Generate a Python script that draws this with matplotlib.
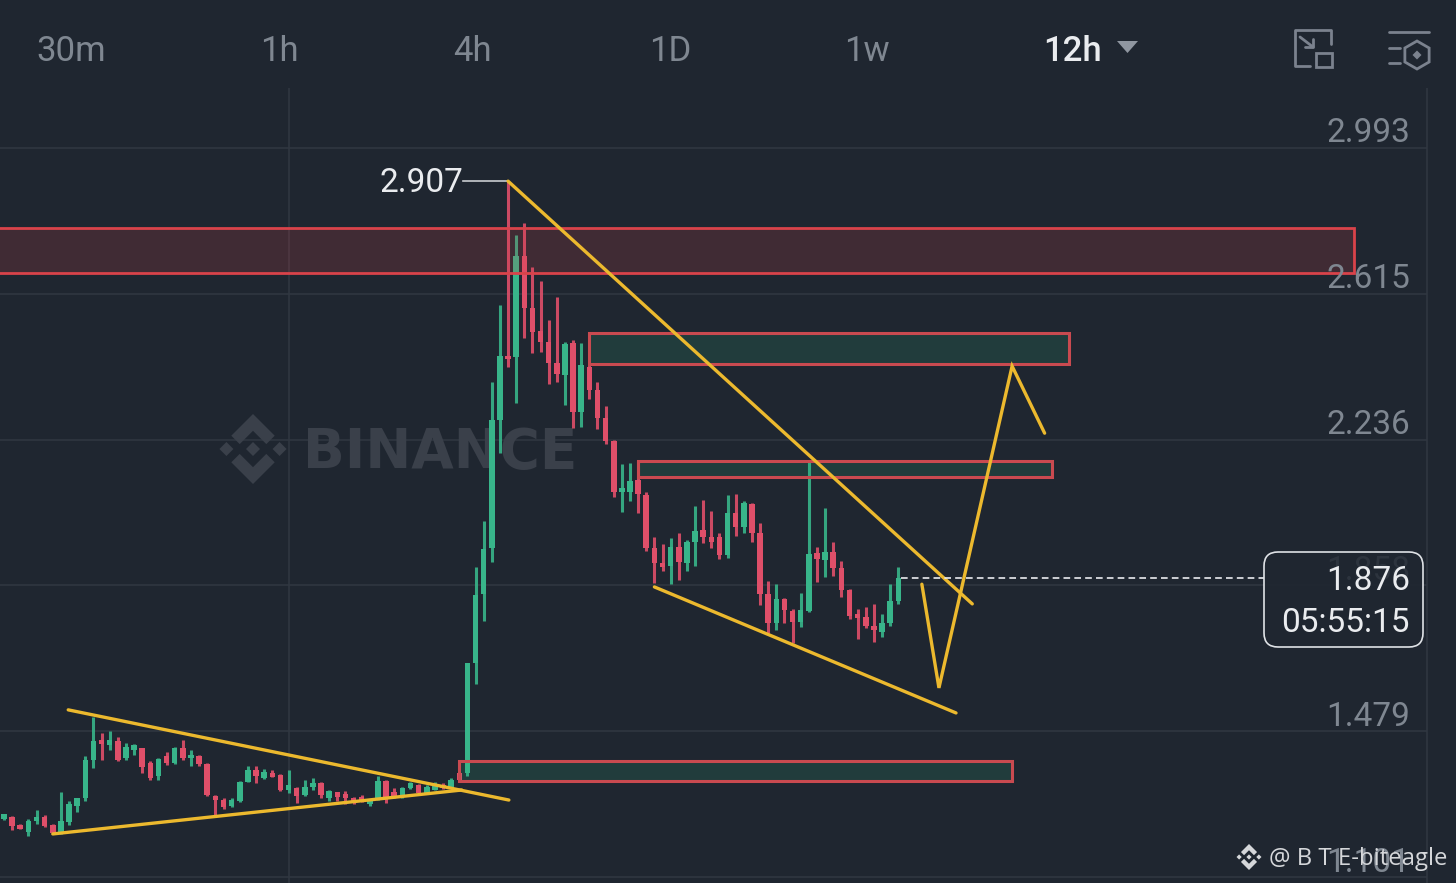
# Candlestick chart with hand drawn zones and trend lines (dark mobile app look)
import matplotlib
matplotlib.use("Agg")
import matplotlib.pyplot as plt
from matplotlib.patches import Polygon, Rectangle, FancyBboxPatch
from matplotlib.transforms import Affine2D
import numpy as np

# candles, 10 per row
opens = [1.253, 1.257, 1.237, 1.218, 1.247, 1.257, 1.237, 1.218, 1.244, 1.285,
         1.307, 1.406, 1.456, 1.443, 1.454, 1.409, 1.430, 1.435, 1.396, 1.363,
         1.415, 1.396, 1.437, 1.409, 1.415, 1.394, 1.311, 1.301, 1.285, 1.299,
         1.348, 1.378, 1.359, 1.372, 1.365, 1.328, 1.333, 1.314, 1.335, 1.344,
         1.307, 1.321, 1.316, 1.306, 1.309, 1.290, 1.302, 1.351, 1.322, 1.309,
         1.333, 1.339, 1.318, 1.328, 1.341, 1.333, 1.371, 1.371, 1.657, 1.836,
         1.955, 2.287, 2.453, 2.451, 2.713, 2.578, 2.518, 2.489, 2.435, 2.404,
         2.487, 2.308, 2.425, 2.365, 2.292, 2.233, 2.100, 2.100, 2.131, 2.092,
         1.955, 1.916, 1.908, 1.958, 1.916, 1.971, 2.002, 1.983, 1.983, 1.937,
         2.046, 2.009, 2.070, 1.994, 1.836, 1.760, 1.823, 1.791, 1.763, 1.791,
         1.942, 1.924, 1.945, 1.903, 1.846, 1.784, 1.776, 1.753, 1.737, 1.760, 1.817]
closes = [1.264, 1.233, 1.227, 1.247, 1.257, 1.233, 1.216, 1.247, 1.290, 1.306,
          1.406, 1.454, 1.446, 1.456, 1.404, 1.439, 1.443, 1.387, 1.359, 1.408,
          1.396, 1.437, 1.409, 1.417, 1.394, 1.313, 1.302, 1.283, 1.302, 1.348,
          1.378, 1.363, 1.373, 1.361, 1.328, 1.340, 1.311, 1.335, 1.346, 1.314,
          1.325, 1.309, 1.305, 1.299, 1.301, 1.301, 1.351, 1.307, 1.307, 1.333,
          1.344, 1.318, 1.335, 1.339, 1.331, 1.352, 1.354, 1.657, 1.833, 1.952,
          2.287, 2.453, 2.445, 2.713, 2.578, 2.515, 2.489, 2.435, 2.406, 2.484,
          2.308, 2.430, 2.365, 2.292, 2.233, 2.100, 2.111, 2.129, 2.095, 1.955,
          1.916, 1.906, 1.958, 1.919, 1.971, 1.999, 1.983, 1.971, 1.937, 2.046,
          2.009, 2.072, 1.994, 1.836, 1.760, 1.823, 1.794, 1.763, 1.794, 1.939,
          1.926, 1.945, 1.903, 1.846, 1.778, 1.773, 1.753, 1.742, 1.760, 1.817, 1.876]
highs = [1.266, 1.259, 1.238, 1.253, 1.276, 1.261, 1.240, 1.323, 1.299, 1.307,
         1.416, 1.517, 1.475, 1.479, 1.465, 1.448, 1.446, 1.437, 1.403, 1.411,
         1.425, 1.439, 1.456, 1.430, 1.417, 1.396, 1.313, 1.307, 1.307, 1.351,
         1.389, 1.389, 1.382, 1.380, 1.368, 1.380, 1.335, 1.354, 1.357, 1.347,
         1.327, 1.323, 1.325, 1.309, 1.314, 1.302, 1.363, 1.354, 1.333, 1.335,
         1.349, 1.342, 1.339, 1.349, 1.344, 1.358, 1.374, 1.657, 1.906, 2.025,
         2.386, 2.586, 2.907, 2.767, 2.798, 2.684, 2.648, 2.547, 2.606, 2.489,
         2.495, 2.487, 2.430, 2.386, 2.323, 2.235, 2.173, 2.176, 2.181, 2.100,
         1.983, 1.965, 1.981, 1.994, 1.976, 2.064, 2.079, 2.051, 1.994, 2.092,
         2.095, 2.077, 2.072, 2.020, 1.869, 1.861, 1.825, 1.797, 1.838, 2.183,
         1.958, 2.059, 1.971, 1.921, 1.849, 1.797, 1.802, 1.810, 1.784, 1.861, 1.906]
lows = [1.249, 1.224, 1.226, 1.207, 1.238, 1.230, 1.212, 1.214, 1.236, 1.270,
        1.299, 1.384, 1.406, 1.430, 1.401, 1.404, 1.417, 1.370, 1.354, 1.354,
        1.391, 1.394, 1.406, 1.389, 1.389, 1.311, 1.257, 1.279, 1.283, 1.297,
        1.347, 1.344, 1.356, 1.361, 1.325, 1.318, 1.294, 1.311, 1.328, 1.307,
        1.299, 1.299, 1.292, 1.290, 1.296, 1.285, 1.301, 1.294, 1.305, 1.307,
        1.330, 1.314, 1.316, 1.327, 1.330, 1.332, 1.351, 1.363, 1.602, 1.766,
        1.919, 2.201, 2.425, 2.331, 2.500, 2.461, 2.464, 2.380, 2.386, 2.326,
        2.266, 2.269, 2.342, 2.264, 2.225, 2.087, 2.048, 2.077, 2.046, 1.947,
        1.864, 1.895, 1.861, 1.872, 1.895, 1.908, 1.968, 1.955, 1.926, 1.929,
        1.986, 1.994, 1.971, 1.807, 1.734, 1.742, 1.760, 1.708, 1.750, 1.789,
        1.867, 1.880, 1.882, 1.828, 1.771, 1.719, 1.747, 1.711, 1.724, 1.753, 1.810]

price_ticks = [2.993, 2.615, 2.236, 1.858, 1.479, 1.101]
price_labels = ["2.993", "2.615", "2.236", "1.858", "1.479", "1.101"]
intervals = ["30m", "1h", "4h", "1D", "1w"]
interval_x = [71, 279, 472, 670, 867]

peak_price = 2.907
last_price = 1.876
countdown = "05:55:15"

# zones: first candle, last candle, lower price, upper price
red_zone = (-0.7, 166.0, 2.669, 2.785)
green_zones = [(72.0, 131.0, 2.432, 2.513),
               (78.0, 128.9, 2.139, 2.181),
               (56.0, 124.0, 1.350, 1.402)]

# drawn lines as (candle, price)
drawn_lines = [[(7.9, 1.535), (62.1, 1.301)],
               [(6.0, 1.213), (56.3, 1.327)],
               [(62.0, 2.907), (119.1, 1.810)],
               [(80.0, 1.854), (117.1, 1.527)],
               [(112.9, 1.861), (115.0, 1.592), (124.0, 2.427), (128.0, 2.253)]]

# colours
BG = "#1f2630"
GRID = "#303741"
GREEN = "#38b58a"
RED = "#df4f69"
ZONE_RED = "#d9434a"
YELLOW = "#ecb92e"
MUTED = "#7f8791"
WHITE = "#eaecef"

plt.rcParams["font.family"] = ["Roboto", "DejaVu Sans"]

W, H = 1456, 883
fig = plt.figure(figsize=(W / 100, H / 100), dpi=100, facecolor=BG)
ax = fig.add_axes([0, 0, 1, 1], facecolor=BG)
ax.set_xlim(-0.492, 178.6)
ax.set_ylim(1.0857, 3.3771)
ax.axis("off")

# pixel coordinates for the app chrome, origin top left
px = Affine2D().scale(1, -1).translate(0, H)

# grid
ax.hlines(price_ticks, -1, 175, color=GRID, lw=1.1, zorder=1)
ax.vlines([35.05], 1.0857, 3.15, color=GRID, lw=1.1, zorder=1)
ax.vlines([175.0], 1.0857, 3.15, color=GRID, lw=1.1, zorder=1)


def diamond(cx, cy, r, color, z):
    ax.add_patch(Polygon([(cx - r, cy), (cx, cy - r), (cx + r, cy), (cx, cy + r)],
                         closed=True, fc=color, ec="none", transform=px, zorder=z))


def binance_logo(cx, cy, s, color, z):
    # s = half size of the whole logo
    diamond(cx, cy, s * 0.2, color, z)
    diamond(cx - s * 0.76, cy, s * 0.2, color, z)
    diamond(cx + s * 0.76, cy, s * 0.2, color, z)
    for sign in (-1, 1):
        pts = [(cx, cy + sign * s), (cx + s * 0.62, cy + sign * s * 0.38),
               (cx + s * 0.38, cy + sign * s * 0.14), (cx, cy + sign * s * 0.52),
               (cx - s * 0.38, cy + sign * s * 0.14), (cx - s * 0.62, cy + sign * s * 0.38)]
        ax.add_patch(Polygon(pts, closed=True, fc=color, ec="none", transform=px, zorder=z))


# big watermark under the candles
binance_logo(253, 449, 35, "#3a404a", 1.2)
ax.text(303, 468, "BINANCE", transform=px, color="#3a404a", fontsize=39.5, fontweight="bold",
        family="DejaVu Sans", va="baseline", ha="left", zorder=1.2)

# candles
idx = np.arange(len(opens))
o = np.array(opens)
c = np.array(closes)
colors = [GREEN if b >= a else RED for a, b in zip(opens, closes)]
ax.vlines(idx, lows, highs, colors=colors, lw=2.2, alpha=0.9, zorder=2)
ax.bar(idx, np.abs(c - o), bottom=np.minimum(o, c), width=0.68, color=colors, lw=0, zorder=2.1)

# zones
x0, x1, lo, hi = red_zone
ax.add_patch(Rectangle((x0, lo), x1 - x0, hi - lo, fc=(217 / 255, 67 / 255, 74 / 255, 0.18),
                       ec=ZONE_RED, lw=2.0, zorder=3))
for x0, x1, lo, hi in green_zones:
    ax.add_patch(Rectangle((x0, lo), x1 - x0, hi - lo, fc=(46 / 255, 189 / 255, 133 / 255, 0.15),
                           ec="#c94a50", lw=2.2, zorder=3))

# yellow lines
for pts in drawn_lines:
    xs, ys = zip(*pts)
    ax.plot(xs, ys, color=YELLOW, lw=2.4, solid_capstyle="round", solid_joinstyle="miter", zorder=4)

# peak label
ax.plot([56.5, 62.0], [peak_price, peak_price], color="#c9ccd0", lw=1.2, zorder=3.5)
ax.text(463, 192, f"{peak_price:.3f}", transform=px, color=WHITE, fontsize=24,
        ha="right", va="baseline", zorder=5)

# price labels sit just above their grid line, baseline 6 px over it
for p, lab in zip(price_ticks, price_labels):
    ax.annotate(lab, xy=(173.0, p), xytext=(0, 4.0), textcoords="offset points",
                color=MUTED, fontsize=24, ha="right", va="baseline", zorder=5)

# last price line and box
ax.plot([110.3, 155.0], [last_price, last_price], color=WHITE, lw=1.2, ls=(0, (4, 2.5)), zorder=4)
ax.add_patch(FancyBboxPatch((1264, 552), 159, 95, boxstyle="round,pad=0,rounding_size=14",
                            fc=(31 / 255, 38 / 255, 48 / 255, 0.85), ec="#dfe2e6", lw=1.2,
                            transform=px, zorder=5.5))
ax.text(1410, 590, f"{last_price:.3f}", transform=px, color=WHITE, fontsize=24, ha="right",
        va="baseline", zorder=6)
ax.text(1410, 632, countdown, transform=px, color=WHITE, fontsize=24, ha="right", va="baseline", zorder=6)

# interval bar
for lab, x in zip(intervals, interval_x):
    ax.text(x, 61, lab, transform=px, color=MUTED, fontsize=25, ha="center", va="baseline", zorder=6)
ax.text(1073, 61, "12h", transform=px, color=WHITE, fontsize=25, fontweight="medium",
        ha="center", va="baseline", zorder=6)
ax.add_patch(Polygon([(1117, 41), (1138, 41), (1127.5, 53)], closed=True, fc="#8f96a0", ec="none",
                     transform=px, zorder=6))

# toolbar icons
ICON = "#7b828e"
icon_lines = [[(1331, 44), (1331, 30), (1295, 30), (1295, 66), (1310, 66)],
              [(1300, 37), (1313, 47)],
              [(1313, 39), (1313, 47), (1305, 47)],
              [(1389, 32), (1429, 32)],
              [(1389, 48), (1400, 48)],
              [(1389, 63), (1400, 63)]]
for pts in icon_lines:
    xs, ys = zip(*pts)
    ax.plot(xs, ys, color=ICON, lw=2.0, transform=px, solid_capstyle="round", zorder=6)
ax.add_patch(Rectangle((1316, 53), 16, 14, fc="none", ec=ICON, lw=2.0, transform=px, zorder=6))
a = np.deg2rad(np.arange(6) * 60 + 30)
hexagon = [(1417 + 14 * np.cos(t), 55 + 14 * np.sin(t)) for t in a]
ax.add_patch(Polygon(hexagon, closed=True, fc="none", ec=ICON, lw=2.0, transform=px, zorder=6))
diamond(1417, 55, 4.5, ICON, 6)

# watermark of the author bottom right
binance_logo(1249, 857, 13, "#d5d7da", 6)
ax.text(1269, 865, "@ B T E-biteagle", transform=px, color="#d5d7da", fontsize=17.2,
        family=["Open Sans", "DejaVu Sans"], ha="left", va="baseline", zorder=6)

fig.savefig("out.png", dpi=100, facecolor=BG)
